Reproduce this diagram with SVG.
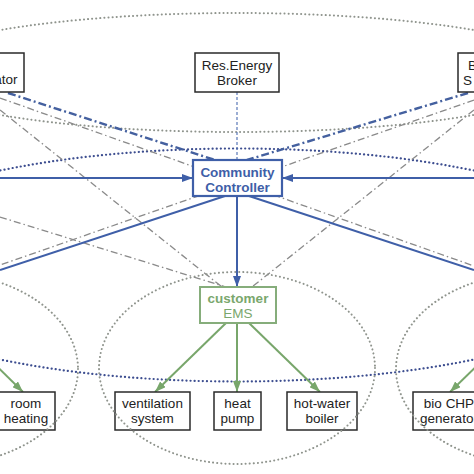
<svg xmlns="http://www.w3.org/2000/svg" width="474" height="474" viewBox="0 0 474 474">
<style>
.box{fill:#fff;stroke:#2a2a2a;stroke-width:1.5}
.t{font-family:"Liberation Sans",Arial,sans-serif;font-size:13.5px;fill:#222;text-anchor:middle}
.cc{fill:#fff;stroke:#3f5fa8;stroke-width:2.2}
.cct{font-family:"Liberation Sans",Arial,sans-serif;font-size:13.5px;font-weight:bold;fill:#3f5fa8;text-anchor:middle}
.ems{fill:#fff;stroke:#86ad7b;stroke-width:2}
.emst{font-family:"Liberation Sans",Arial,sans-serif;font-size:13.5px;fill:#7aa76d;text-anchor:middle}
.bs{fill:none;stroke:#3f5fa8;stroke-width:2}
.bdd{fill:none;stroke:#44609f;stroke-width:2.4;stroke-dasharray:8 3 2 3}
.bdot{fill:none;stroke:#3d4e90;stroke-width:2.2;stroke-dasharray:0.1 4;stroke-linecap:round}
.bv{fill:none;stroke:#5a78b8;stroke-width:1.2;stroke-dasharray:3 2}
.gdd{fill:none;stroke:#8a8a8a;stroke-width:1.3;stroke-dasharray:7 3 1.5 3}
.gdot{fill:none;stroke:#8f948d;stroke-width:2;stroke-dasharray:0.1 4;stroke-linecap:round}
.gr{fill:none;stroke:#78a66b;stroke-width:2}
</style>
<defs>
<marker id="ab" markerUnits="userSpaceOnUse" markerWidth="11" markerHeight="8" refX="11" refY="4" orient="auto"><path d="M0,0 L11,4 L0,8 z" fill="#3f5fa8"/></marker>
<marker id="ag" markerUnits="userSpaceOnUse" markerWidth="11" markerHeight="8" refX="11" refY="4" orient="auto"><path d="M0,0 L11,4 L0,8 z" fill="#78a66b"/></marker>
</defs>
<rect width="474" height="474" fill="#fff"/>
<g id="regions">
<ellipse class="gdot" cx="237" cy="72.5" rx="338" ry="59.5"/>
<ellipse class="bdot" cx="237" cy="265" rx="405" ry="116.5"/>
</g>
<g id="connectors">
<path class="gdd" d="M0,98 L474,266"/>
<path class="gdd" d="M474,100 L0,265"/>
<path class="gdd" d="M0,110 L222,287"/>
<path class="gdd" d="M474,110 L252,287"/>
<path class="gdd" d="M0,217 L226,287"/>
<path class="bdd" d="M8,93 L215,160"/>
<path class="bdd" d="M468,93 L247,160"/>
<path class="bv" d="M237,92 L237,160"/>
<path class="bs" d="M0,178 L193,178" marker-end="url(#ab)"/>
<path class="bs" d="M474,178 L282,178" marker-end="url(#ab)"/>
<path class="bs" d="M237,196 L237,287" marker-end="url(#ab)"/>
<path class="bs" d="M225,196 L0,270"/>
<path class="bs" d="M249,196 L474,270"/>
<path class="gr" d="M226,323 L155,392" marker-end="url(#ag)"/>
<path class="gr" d="M237,323 L237,392" marker-end="url(#ag)"/>
<path class="gr" d="M249,323 L320,392" marker-end="url(#ag)"/>
<path class="gr" d="M-47,323 L23,392" marker-end="url(#ag)"/>
<path class="gr" d="M521,323 L450,392" marker-end="url(#ag)"/>
</g>
<g id="generator"><rect class="box" x="-60" y="53" width="84" height="39"/><text class="t" x="17.5" y="84" style="text-anchor:end">ator</text></g>
<g id="broker"><rect class="box" x="195" y="53" width="84" height="39"/><text class="t" x="237" y="70">Res.Energy</text><text class="t" x="237" y="84.5">Broker</text></g>
<g id="storage"><rect class="box" x="458" y="53" width="84" height="39"/><text class="t" x="468" y="70" style="text-anchor:start">B</text><text class="t" x="463" y="84.5" style="text-anchor:start">S</text></g>
<g id="community-controller"><rect class="cc" x="193" y="160" width="89" height="36"/><text class="cct" x="237.5" y="177">Community</text><text class="cct" x="237.5" y="191.5">Controller</text></g>
<g id="customer-ems"><rect class="ems" x="200" y="287" width="76" height="36"/><text class="emst" x="238" y="303" font-weight="bold">customer</text><text class="emst" x="238" y="318">EMS</text></g>
<g id="room-heating"><rect class="box" x="-4" y="392" width="59" height="38"/><text class="t" x="26" y="407.5">room</text><text class="t" x="26" y="422.5">heating</text></g>
<g id="ventilation-system"><rect class="box" x="115" y="392" width="75" height="38"/><text class="t" x="152.5" y="407.5">ventilation</text><text class="t" x="152.5" y="422.5">system</text></g>
<g id="heat-pump"><rect class="box" x="214" y="392" width="47" height="38"/><text class="t" x="237.5" y="407.5">heat</text><text class="t" x="237.5" y="422.5">pump</text></g>
<g id="hot-water-boiler"><rect class="box" x="287" y="392" width="70" height="38"/><text class="t" x="322" y="407.5">hot-water</text><text class="t" x="322" y="422.5">boiler</text></g>
<g id="bio-chp-generator"><rect class="box" x="413" y="392" width="72" height="38"/><text class="t" x="449" y="407.5">bio CHP</text><text class="t" x="449" y="422.5">generator</text></g>
<g id="households">
<ellipse class="gdot" cx="-60" cy="369" rx="138" ry="96"/>
<ellipse class="gdot" cx="237" cy="368" rx="138" ry="96"/>
<ellipse class="gdot" cx="534" cy="369" rx="138" ry="96"/>
</g>
</svg>
